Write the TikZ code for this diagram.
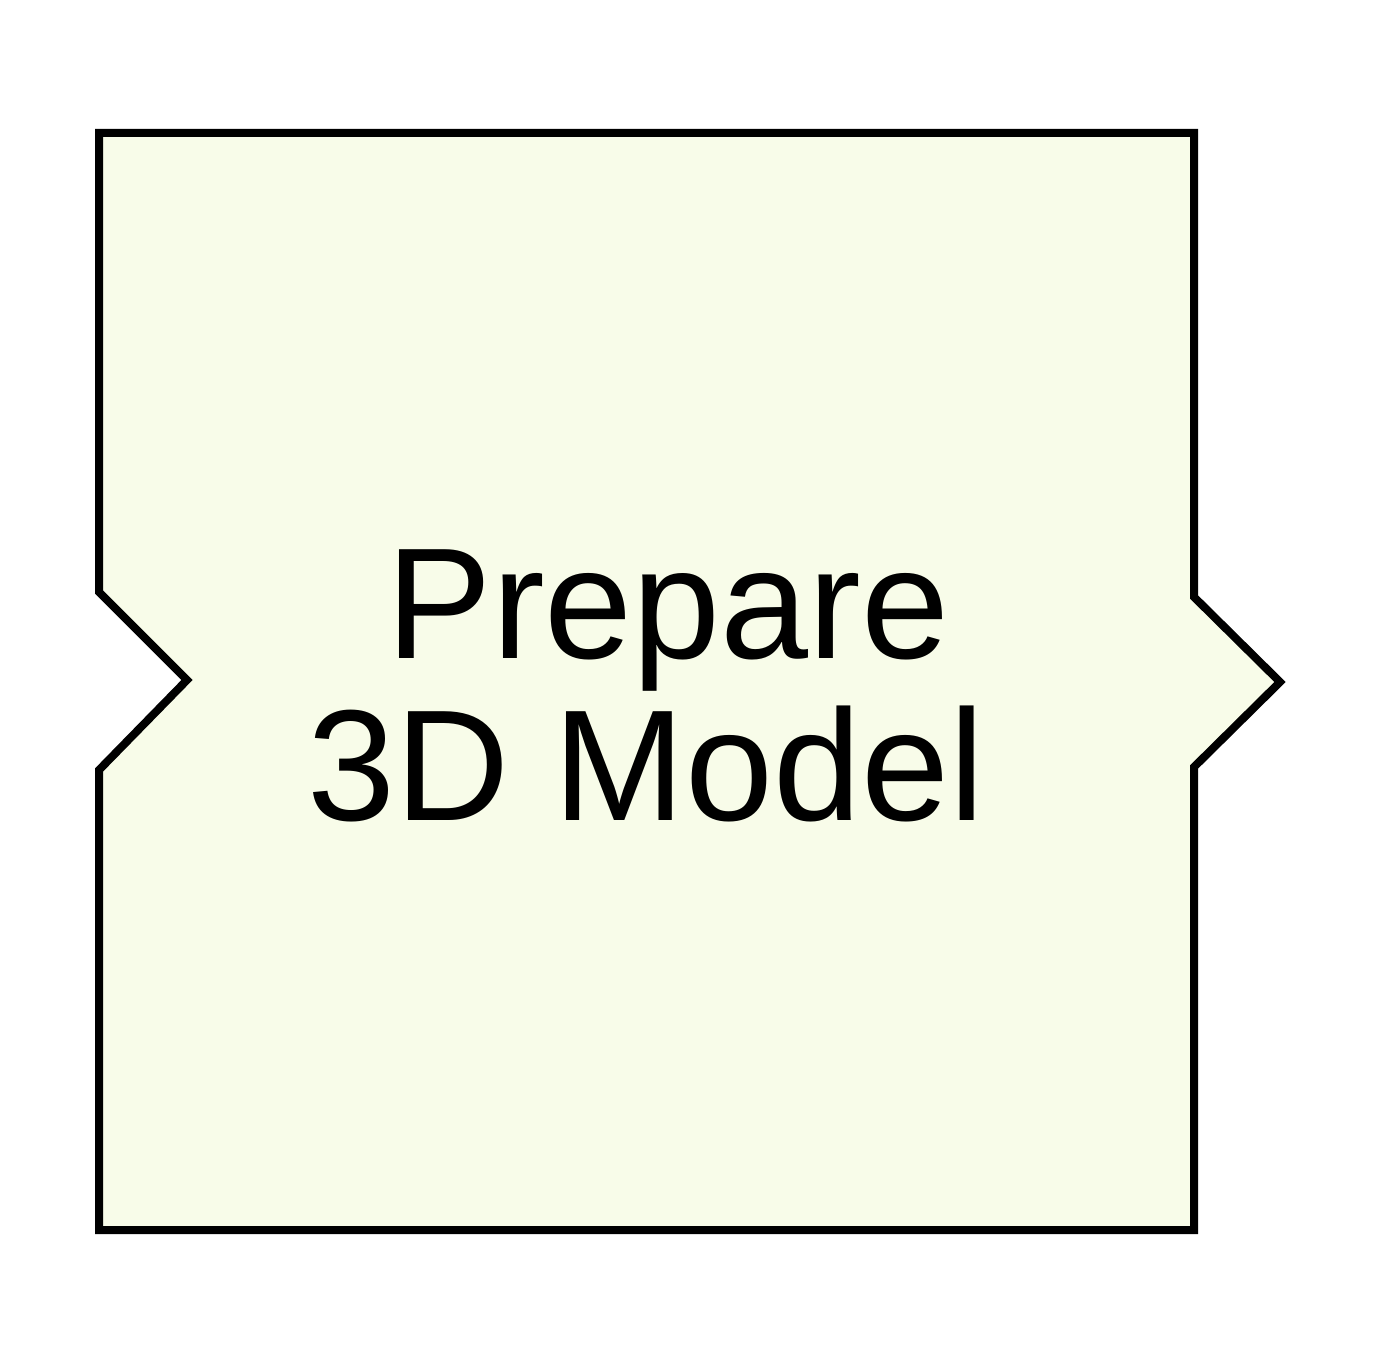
\documentclass[tikz,border=0pt]{standalone}
\usepackage{fontspec}
\setmainfont{Liberation Sans}
\definecolor{stepfill}{RGB}{248,252,233}

\begin{document}
\begin{tikzpicture}[
        stepshape/.style={draw=black, line width=0.08cm, fill=stepfill, line join=miter},
        steplabel/.style={align=center, inner sep=0pt, font=\fontsize{45}{46.2}\selectfont}
    ]

        % page
        \useasboundingbox (00.00,00.00) rectangle (13.81,13.65);

        % Prepare 3D Model
        \draw[stepshape] (00.99,12.32) -- (11.94,12.32) -- (11.94,07.68)
            -- (12.80,06.83) -- (11.94,05.98) -- (11.94,01.35)
            -- (00.99,01.35) -- (00.99,05.95) -- (01.87,06.85)
            -- (00.99,07.73) -- cycle;
        \node[steplabel] (prepare) at (06.68,06.79) {Prepare\\3D Model\hspace*{0.44cm}};

    \end{tikzpicture}
\end{document}
